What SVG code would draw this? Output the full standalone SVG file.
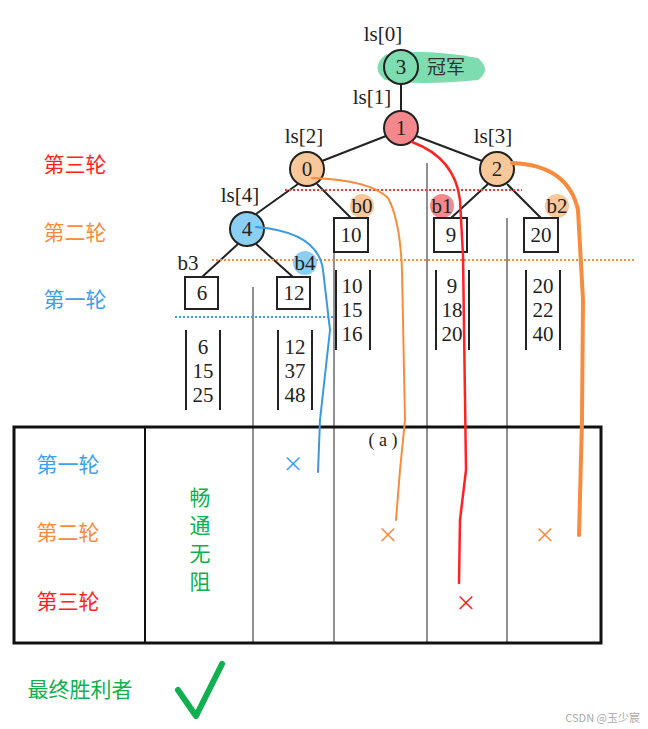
<svg xmlns="http://www.w3.org/2000/svg" width="648" height="729" viewBox="0 0 648 729">
<style>
.t{font-family:"Liberation Serif",serif;font-size:21px;fill:#222;text-anchor:middle}
.c{font-family:"Noto Sans CJK SC",sans-serif;font-size:21px;text-anchor:middle}
.e{stroke:#222;stroke-width:2;fill:none}
.n{stroke:#222;stroke-width:2}
.box{fill:#fff;stroke:#222;stroke-width:2}
.br{fill:none;stroke:#222;stroke-width:2}
.v{stroke:#222;stroke-width:1}
</style>
<rect width="648" height="729" fill="#fff"/>
<g id="connectors">
<line class="e" x1="401" y1="84" x2="401" y2="111"/>
<line class="e" x1="386" y1="136" x2="322" y2="161"/>
<line class="e" x1="416" y1="136" x2="482" y2="161"/>
<line class="e" x1="298" y1="184" x2="256" y2="214"/>
<line class="e" x1="317" y1="184" x2="351" y2="218"/>
<line class="e" x1="488" y1="184" x2="451" y2="218"/>
<line class="e" x1="507" y1="184" x2="541" y2="218"/>
<line class="e" x1="238" y1="244" x2="202" y2="277"/>
<line class="e" x1="256" y1="244" x2="293" y2="277"/>
</g>
<g id="grid">
<line class="v" x1="253" y1="287" x2="253" y2="643"/>
<line class="v" x1="334" y1="250" x2="334" y2="643"/>
<line class="v" x1="427" y1="163" x2="427" y2="643"/>
<line class="v" x1="507" y1="218" x2="507" y2="643"/>
<rect x="14" y="427" width="587" height="216" fill="none" stroke="#111" stroke-width="3"/>
<line x1="145" y1="427" x2="145" y2="643" stroke="#111" stroke-width="2"/>
<line x1="285" y1="190" x2="522" y2="190" stroke="#f33" stroke-width="2" stroke-dasharray="2,2"/>
<line x1="212" y1="260" x2="635" y2="260" stroke="#f88c3c" stroke-width="2" stroke-dasharray="2,2"/>
<line x1="175" y1="317" x2="333" y2="317" stroke="#3aa0f0" stroke-width="2" stroke-dasharray="2,2"/>
</g>
<g id="highlights">
<path d="M385 55 Q420 48 478 58 Q492 70 478 80 Q420 86 385 80 Q370 68 385 55Z" fill="#7ddcb0"/>
<circle cx="362" cy="206" r="12" fill="#f8c89a"/>
<circle cx="442" cy="206" r="12" fill="#f4888c"/>
<circle cx="557" cy="206" r="12" fill="#f8c89a"/>
<circle cx="305" cy="263" r="12" fill="#8ccff5"/>
</g>
<g id="n3"><circle class="n" cx="401" cy="67" r="17" fill="#7ddcb0"/><text class="t" x="401" y="74">3</text><text class="c" x="446" y="74" fill="#333" style="font-size:19px">冠军</text><text class="t" x="383" y="41">ls[0]</text></g>
<g id="n1"><circle class="n" cx="401" cy="128" r="17" fill="#f4888c"/><text class="t" x="401" y="135">1</text><text class="t" x="372" y="104">ls[1]</text></g>
<g id="n0"><circle class="n" cx="307" cy="169" r="17" fill="#f8c89a"/><text class="t" x="307" y="176" fill="#7a5a30">0</text><text class="t" x="304" y="143">ls[2]</text></g>
<g id="n2"><circle class="n" cx="497" cy="169" r="17" fill="#f8c89a"/><text class="t" x="497" y="176">2</text><text class="t" x="493" y="143">ls[3]</text></g>
<g id="n4"><circle class="n" cx="247" cy="229" r="17" fill="#8ccff5"/><text class="t" x="247" y="236">4</text><text class="t" x="240" y="202">ls[4]</text></g>
<g id="b0"><rect class="box" x="334" y="218" width="34" height="34"/><text class="t" x="351" y="242">10</text><text class="t" x="362" y="213">b0</text></g>
<g id="b1"><rect class="box" x="434" y="218" width="33" height="34"/><text class="t" x="451" y="242">9</text><text class="t" x="442" y="213">b1</text></g>
<g id="b2"><rect class="box" x="524" y="218" width="34" height="34"/><text class="t" x="541" y="242">20</text><text class="t" x="557" y="213">b2</text></g>
<g id="b3"><rect class="box" x="185" y="277" width="33" height="32"/><text class="t" x="202" y="300">6</text><text class="t" x="188" y="270">b3</text></g>
<g id="b4"><rect class="box" x="277" y="277" width="33" height="32"/><text class="t" x="294" y="300">12</text><text class="t" x="305" y="270">b4</text></g>
<g id="lists">
<path class="br" d="M336 270V350M370 270V350"/><text class="t" x="352" y="293">10</text><text class="t" x="352" y="317">15</text><text class="t" x="352" y="341">16</text>
<path class="br" d="M436 270V350M469 270V350"/><text class="t" x="452" y="293">9</text><text class="t" x="452" y="317">18</text><text class="t" x="452" y="341">20</text>
<path class="br" d="M526 270V350M560 270V350"/><text class="t" x="543" y="293">20</text><text class="t" x="543" y="317">22</text><text class="t" x="543" y="341">40</text>
<path class="br" d="M186 330V410M220 330V410"/><text class="t" x="203" y="354">6</text><text class="t" x="203" y="378">15</text><text class="t" x="203" y="402">25</text>
<path class="br" d="M278 330V410M312 330V410"/><text class="t" x="295" y="354">12</text><text class="t" x="295" y="378">37</text><text class="t" x="295" y="402">48</text>
</g>
<g id="curves" fill="none" stroke-linecap="round">
<path d="M256 227 Q318 232 323 270 L330 330 L320 420 L318 472" stroke="#3a9ae0" stroke-width="2"/>
<path d="M312 178 Q370 180 388 198 Q400 220 402 270 L405 420 L400 470 L396 520" stroke="#f88c3c" stroke-width="2"/>
<path d="M412 142 Q455 158 460 200 L463 255 L466 470 L460 520 L459 583" stroke="#f22" stroke-width="2.5"/>
<path d="M512 163 Q568 165 578 210 L583 300 L582 420 L579 535" stroke="#f88c3c" stroke-width="4"/>
</g>
<g id="labels">
<text class="c" x="75" y="172" fill="#f22">第三轮</text>
<text class="c" x="75" y="240" fill="#f88c3c">第二轮</text>
<text class="c" x="75" y="307" fill="#3aa0f0">第一轮</text>
<text class="c" x="68" y="472" fill="#3aa0f0">第一轮</text>
<text class="c" x="68" y="540" fill="#f88c3c">第二轮</text>
<text class="c" x="68" y="609" fill="#f22">第三轮</text>
<text class="c" x="200" y="505" fill="#10b050">畅</text>
<text class="c" x="200" y="533" fill="#10b050">通</text>
<text class="c" x="200" y="561" fill="#10b050">无</text>
<text class="c" x="200" y="589" fill="#10b050">阻</text>
<text class="c" x="293" y="471" fill="#3aa0f0">×</text>
<text class="c" x="388" y="542" fill="#f88c3c">×</text>
<text class="c" x="545" y="542" fill="#f88c3c">×</text>
<text class="c" x="466" y="610" fill="#f22">×</text>
<text class="t" x="383" y="446" style="font-size:18px">( a )</text>
<text class="c" x="80" y="697" fill="#10b050">最终胜利者</text>
<path d="M178 690 L196 716 L222 664" fill="none" stroke="#10b050" stroke-width="6" stroke-linecap="round" stroke-linejoin="round"/>
<text class="c" x="640" y="722" fill="#aaa" style="font-size:11px;text-anchor:end">CSDN @玉少宸</text>
</g>
</svg>
